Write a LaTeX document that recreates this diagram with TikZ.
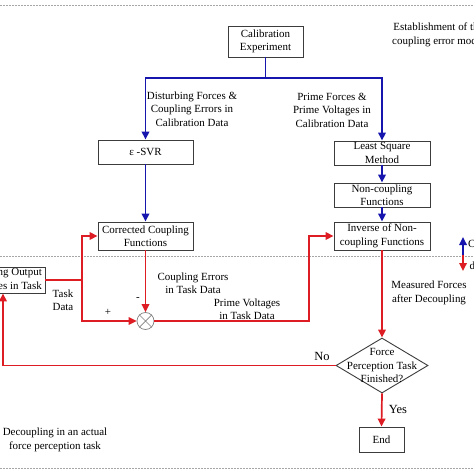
\documentclass[tikz,border=0pt]{standalone}
\usepackage{fontspec}
\setmainfont{Liberation Serif}
\usetikzlibrary{arrows.meta,shapes.geometric}
\definecolor{fred}{RGB}{222,28,36}
\definecolor{fblue}{RGB}{22,22,175}
\definecolor{fbox}{RGB}{60,60,60}
\tikzset{
  txt/.style={font=\fontsize{11}{13.5}\selectfont, align=center, inner sep=0pt},
  bigtxt/.style={font=\fontsize{12.5}{14}\selectfont, inner sep=0pt},
  stepbox/.style={draw=fbox, line width=0.9bp, rectangle, inner sep=0pt},
  bluearrow/.style={draw=fblue, line width=1.7bp, -{Triangle[length=8bp,width=7.5bp]}},
  blueline/.style={draw=fblue, line width=1.7bp},
  redarrow/.style={draw=fred, line width=1.7bp, -{Triangle[length=8bp,width=7.5bp]}},
  redline/.style={draw=fred, line width=1.7bp},
  sep/.style={draw=gray!70, line width=0.6bp, dash pattern=on 1.6bp off 1.4bp}
}
\begin{document}
\begin{tikzpicture}[x=1bp,y=-1bp]
\useasboundingbox (0,0) rectangle (474,474);
\clip (0,0) rectangle (474,474);
\fill[white] (0,0) rectangle (474,474);

% separators
\draw[sep] (0,5) -- (474,5);
\draw[sep] (0,256) -- (474,256);
\draw[sep] (0,468) -- (474,468);

% boxes
\node[stepbox, minimum width=75bp, minimum height=31bp] (cal) at (265.5,41.5) {};
\node[txt] at (cal) {Calibration\\Experiment};
\node[stepbox, minimum width=95bp, minimum height=24bp] (svr) at (145.5,152) {};
\node[txt] at (svr) {ε -SVR};
\node[stepbox, minimum width=96bp, minimum height=24bp] (lsm) at (382,153) {};
\node[txt] at (lsm) {Least Square\\Method};
\node[stepbox, minimum width=96bp, minimum height=24bp] (nc) at (382,195) {};
\node[txt] at (nc) {Non-coupling\\Functions};
\node[stepbox, minimum width=96bp, minimum height=28bp] (inv) at (382,236) {};
\node[txt] at (inv) {Inverse of Non-\\coupling Functions};
\node[stepbox, minimum width=95bp, minimum height=28bp] (cor) at (145.5,236) {};
\node[txt] at (cor) {Corrected Coupling\\Functions};
\node[stepbox, minimum width=105bp, minimum height=26bp] (lout) at (-7.5,280) {};
\node[txt, align=right, anchor=east] at (42,280) {Sensing Output\\Voltages in Task};
\node[stepbox, minimum width=45bp, minimum height=25bp] (end) at (381.5,439.5) {};
\node[txt] at (end) {End};
\node[diamond, draw=fbox, line width=0.9bp, inner sep=0pt, minimum width=92bp, minimum height=55bp] (dia) at (382,365.5) {};
\node[txt] at (dia) {Force\\Perception Task\\Finished?};

% summing junction
\node[circle, draw=gray, line width=0.7bp, minimum size=17bp, inner sep=0pt] (sum) at (145.5,321) {};
\draw[gray, line width=0.7bp] (sum.north east) -- (sum.south west) (sum.north west) -- (sum.south east);

% blue connectors
\coordinate (split) at (265.5,78);
\draw[blueline] (cal.south) -- (split);
\draw[bluearrow] (split) -| (svr.north);
\draw[bluearrow] (split) -| (lsm.north);
\draw[bluearrow] (svr.south) -- (cor.north);
\draw[bluearrow] (lsm.south) -- (nc.north);
\draw[bluearrow] (nc.south) -- (inv.north);

% red connectors
\coordinate (tj) at (82,280);
\draw[redline] (lout.east) -- (tj);
\draw[redarrow] (tj) |- (cor.west);
\draw[redarrow] (tj) |- (sum.west);
\draw[redarrow] (cor.south) -- (sum.north);
\coordinate (pv) at (309,321);
\draw[redarrow] (sum.east) -- (pv) |- (inv.west);
\draw[redarrow] (inv.south) -- (dia.north);
\coordinate (nb) at (3,365.5);
\draw[redarrow] (dia.west) -- (nb) -- (nb |- lout.south);
\draw[redarrow] (dia.south) -- (end.north);

% labels
\node[txt] at (192,109) {Disturbing Forces \&\\Coupling Errors in\\Calibration Data};
\node[txt] at (332,110) {Prime Forces \&\\Prime Voltages in\\Calibration Data};
\node[txt, anchor=west] at (392,35) {Establishment of the\\coupling error model};
\node[txt] at (63,300) {Task\\Data};
\node[txt] at (108,312) {+};
\node[txt] at (138,299) {-};
\node[txt] at (193,283) {Coupling Errors\\in Task Data};
\node[txt] at (247,309) {Prime Voltages\\in Task Data};
\node[txt] at (429,293) {Measured Forces\\after Decoupling};
\node[bigtxt] at (322,356) {No};
\node[bigtxt] at (398,409) {Yes};
\node[txt] at (55,440) {Decoupling in an actual\\force perception task};

% legend
\coordinate (lb) at (463,255);
\coordinate (lbt) at (463,237);
\coordinate (lrt) at (463,271);
\draw[bluearrow] (lb) -- (lbt);
\draw[redarrow] (lb) -- (lrt);
\node[txt, anchor=west] at (468,244) {Calibration};
\node[txt, anchor=west] at (469.5,267) {decoupling};
\end{tikzpicture}
\end{document}
